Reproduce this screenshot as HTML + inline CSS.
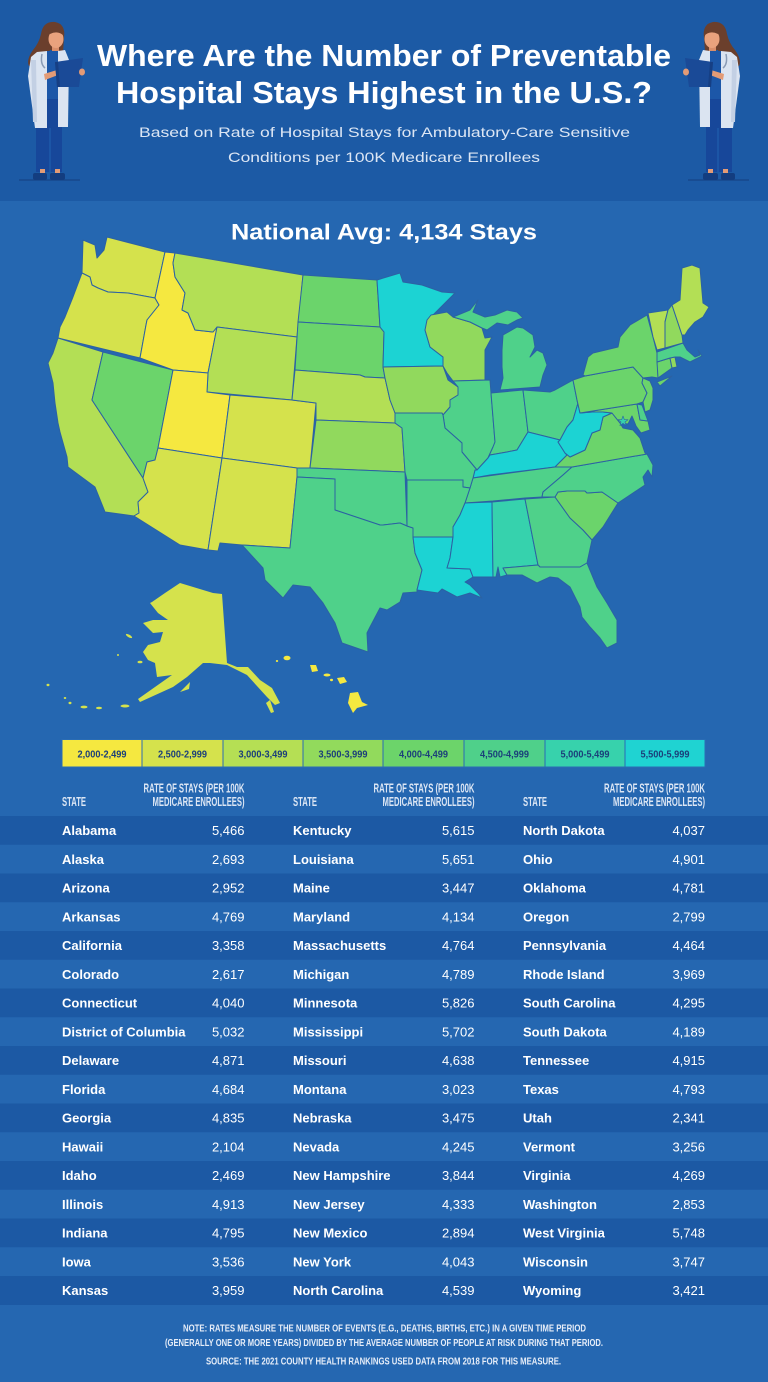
<!DOCTYPE html>
<html><head><meta charset="utf-8"><style>
html,body{margin:0;padding:0;background:#2567b1;}
svg{display:block;}
</style></head><body>
<svg width="768" height="1382" viewBox="0 0 768 1382" xmlns="http://www.w3.org/2000/svg" font-family="'Liberation Sans', sans-serif">
<rect x="0" y="0" width="768" height="1382" fill="#2567b1"/>
<rect x="0" y="0" width="768" height="201" fill="#1c5aa5"/>

<!-- Doctor left -->
<g id="docL">
<rect x="19" y="179" width="61" height="2" fill="#184c92"/>
<path d="M41 34 Q43 21 55 22 Q66 24 64 38 L63 52 L50 50 L44 63 L29 66 Q26 60 33 50 Q39 43 41 34 Z" fill="#6b3f2c"/>
<rect x="36" y="98" width="26" height="74" fill="#17479a"/>
<rect x="49" y="128" width="2" height="44" fill="#1c55a6"/>
<rect x="40" y="169" width="5" height="5" fill="#e39b76"/>
<rect x="55" y="169" width="5" height="5" fill="#e39b76"/>
<rect x="33" y="173" width="14" height="7" rx="2" fill="#133d80"/>
<rect x="50" y="173" width="15" height="7" rx="2" fill="#133d80"/>
<rect x="52" y="45" width="7" height="7" fill="#d98e6a"/>
<ellipse cx="56" cy="39" rx="7.5" ry="9" fill="#e9a27d"/>
<path d="M48 30 Q56 24 64 32 L64 36 Q58 30 50 34 Z" fill="#6b3f2c"/>
<rect x="46" y="51" width="13" height="48" fill="#1c57a8"/>
<path d="M37 52 L47 51 L47 128 L35 128 L28 76 L31 57 Z" fill="#dbe4f1"/>
<path d="M58 51 L65 50 L69 60 L68 127 L58 127 Z" fill="#dbe4f1"/>
<path d="M31 60 L36 60 L37 122 L33 122 Z" fill="#c3d0e4"/>
<path d="M42 54 Q40 64 45 68" stroke="#8a9bb5" stroke-width="1.5" fill="none"/>
<polygon points="44,74 57,70 58,75 45,80" fill="#e39b76"/>
<polygon points="55,62 83,58 79,87 57,87" fill="#1a4a97"/>
<polygon points="55,62 58,62 60,87 57,87" fill="#163f84"/>
<ellipse cx="82" cy="72" rx="3" ry="3.5" fill="#e39b76"/>
</g>
<g transform="matrix(-1,0,0,1,768,0)">
<rect x="19" y="179" width="61" height="2" fill="#184c92"/>
<path d="M41 34 Q43 21 55 22 Q66 24 64 38 L63 52 L50 50 L44 63 L29 66 Q26 60 33 50 Q39 43 41 34 Z" fill="#6b3f2c"/>
<rect x="36" y="98" width="26" height="74" fill="#17479a"/>
<rect x="49" y="128" width="2" height="44" fill="#1c55a6"/>
<rect x="40" y="169" width="5" height="5" fill="#e39b76"/>
<rect x="55" y="169" width="5" height="5" fill="#e39b76"/>
<rect x="33" y="173" width="14" height="7" rx="2" fill="#133d80"/>
<rect x="50" y="173" width="15" height="7" rx="2" fill="#133d80"/>
<rect x="52" y="45" width="7" height="7" fill="#d98e6a"/>
<ellipse cx="56" cy="39" rx="7.5" ry="9" fill="#e9a27d"/>
<path d="M48 30 Q56 24 64 32 L64 36 Q58 30 50 34 Z" fill="#6b3f2c"/>
<rect x="46" y="51" width="13" height="48" fill="#1c57a8"/>
<path d="M37 52 L47 51 L47 128 L35 128 L28 76 L31 57 Z" fill="#dbe4f1"/>
<path d="M58 51 L65 50 L69 60 L68 127 L58 127 Z" fill="#dbe4f1"/>
<path d="M31 60 L36 60 L37 122 L33 122 Z" fill="#c3d0e4"/>
<path d="M42 54 Q40 64 45 68" stroke="#8a9bb5" stroke-width="1.5" fill="none"/>
<polygon points="44,74 57,70 58,75 45,80" fill="#e39b76"/>
<polygon points="55,62 83,58 79,87 57,87" fill="#1a4a97"/>
<polygon points="55,62 58,62 60,87 57,87" fill="#163f84"/>
<ellipse cx="82" cy="72" rx="3" ry="3.5" fill="#e39b76"/>
</g>

<!-- Title -->
<g fill="#ffffff" font-weight="bold" text-anchor="middle">
<text x="384" y="66" font-size="31" textLength="574" lengthAdjust="spacingAndGlyphs">Where Are the Number of Preventable</text>
<text x="384" y="103" font-size="31" textLength="536" lengthAdjust="spacingAndGlyphs">Hospital Stays Highest in the U.S.?</text>
</g>
<g fill="#dce6f4" text-anchor="middle" font-size="14">
<text x="384.5" y="137" textLength="491" lengthAdjust="spacingAndGlyphs">Based on Rate of Hospital Stays for Ambulatory-Care Sensitive</text>
<text x="384" y="162" textLength="312" lengthAdjust="spacingAndGlyphs">Conditions per 100K Medicare Enrollees</text>
</g>
<text x="384" y="239.5" fill="#ffffff" font-weight="bold" font-size="22" text-anchor="middle" textLength="306" lengthAdjust="spacingAndGlyphs">National Avg: 4,134 Stays</text>

<!-- Map -->
<g stroke="#2c62a3" stroke-width="1" stroke-linejoin="round">
<polygon fill="#d5e24c" points="83,240 95,245 97,258 104,250 107,237 165,252 155,298 128,293 108,292 98,288 92,285 90,277 82,273"/>
<polygon fill="#d5e24c" points="82,273 90,277 92,285 98,288 108,292 128,293 155,298 159,305 147,320 146,325 140,358 58,338 60,327 65,317 73,297"/>
<polygon fill="#b3df55" points="58,338 103,352 92,400 143,478 148,492 138,502 139,513 134,516 105,512 95,487 68,467 67,457 60,432 58,423 55,403 53,383 48,363 53,353"/>
<polygon fill="#6bd46b" points="103,352 173,370 158,448 155,460 147,462 143,478 92,400"/>
<polygon fill="#f5e840" points="165,252 175,253 173,263 175,277 185,293 182,310 188,313 195,330 213,332 217,327 208,373 173,370 140,358 146,325 147,320 159,305 155,298"/>
<polygon fill="#b3df55" points="175,253 303,275 297,337 217,327 213,332 195,330 188,313 182,310 185,293 175,277 173,263"/>
<polygon fill="#b3df55" points="217,327 297,337 292,400 207,392 208,373"/>
<polygon fill="#f5e840" points="173,370 208,373 207,392 230,395 222,458 158,448"/>
<polygon fill="#d5e24c" points="230,395 292,400 316,403 310,468 297,468 222,458"/>
<polygon fill="#d5e24c" points="158,448 222,458 208,550 180,545 134,516 139,513 138,502 148,492 143,478 147,462 155,460"/>
<polygon fill="#d5e24c" points="222,458 297,468 297,477 290,548 242,545 220,543 218,551 208,550"/>
<polygon fill="#6bd46b" points="303,275 377,280 380,327 298,322"/>
<polygon fill="#6bd46b" points="298,322 380,327 384,332 383,367 385,378 365,377 360,375 295,370"/>
<polygon fill="#b3df55" points="295,370 360,375 365,377 385,378 390,400 395,413 395,423 316,420 316,403 292,400"/>
<polygon fill="#91d95d" points="316,420 395,423 402,428 405,472 310,468"/>
<polygon fill="#4fd18a" points="297,468 310,468 405,472 407,526 400,523 383,525 380,525 335,510 335,479 297,477"/>
<polygon fill="#4fd18a" points="297,477 335,479 335,510 380,525 383,525 400,523 407,526 413,528 413,537 415,553 422,570 417,590 417,592 403,593 400,602 387,610 380,608 370,627 367,633 368,652 342,643 335,623 323,603 310,587 293,585 283,598 265,580 263,568 242,545 290,548"/>
<polygon fill="#1cd3d3" points="377,280 400,273 403,282 422,285 442,292 455,293 433,315 430,317 425,330 430,347 443,357 443,366 383,367 384,332 380,327"/>
<polygon fill="#91d95d" points="383,367 443,366 448,380 458,387 458,395 450,400 450,407 443,415 442,413 395,413 390,400 385,378"/>
<polygon fill="#91d95d" points="431,315 447,312 453,317 470,322 482,328 485,338 492,337 485,350 485,380 453,381 447,373 443,366 443,357 430,347 425,330 427,320"/>
<polygon fill="#4fd18a" points="453,317 470,310 478,300 473,312 485,317 495,315 507,310 517,312 523,318 517,320 508,325 497,323 487,330 482,328 470,322"/>
<polygon fill="#4fd18a" points="503,335 517,327 523,328 533,335 535,347 530,357 537,350 543,353 547,365 543,375 540,387 500,390 503,378 502,367 502,350"/>
<polygon fill="#4fd18a" points="453,381 490,380 491,393 495,442 493,447 488,458 477,470 462,452 462,443 445,428 443,415 450,407 450,400 458,395 458,387"/>
<polygon fill="#4fd18a" points="491,393 523,390 528,432 517,450 507,452 490,455 488,458 493,447 495,442"/>
<polygon fill="#4fd18a" points="523,390 550,392 555,390 573,380 577,400 578,403 573,420 567,427 560,440 552,438 528,432"/>
<polygon fill="#1cd3d3" points="528,432 552,438 560,440 558,442 565,453 567,455 555,467 490,475 473,478 475,470 477,470 488,458 490,455 507,452 517,450"/>
<polygon fill="#4fd18a" points="473,478 555,467 572,467 563,475 543,492 542,497 525,498 493,501 465,503 470,488"/>
<polygon fill="#4fd18a" points="395,413 442,413 443,415 445,428 462,443 462,452 477,470 475,470 473,478 470,488 463,487 463,480 407,480 405,472 402,428 395,423"/>
<polygon fill="#4fd18a" points="407,480 463,480 463,487 470,488 465,503 460,515 453,527 453,537 413,537 413,528 407,526"/>
<polygon fill="#1cd3d3" points="413,537 453,537 450,558 447,568 470,569 473,577 465,582 470,585 478,593 482,598 470,593 457,597 442,589 438,593 417,590 422,570 415,553"/>
<polygon fill="#1cd3d3" points="465,503 492,502 493,577 476,577 473,577 470,569 447,568 450,558 453,537 453,527 460,515"/>
<polygon fill="#36d2ad" points="492,502 525,499 538,565 503,568 507,575 500,577 498,567 496,577 493,577"/>
<polygon fill="#4fd18a" points="525,499 555,497 570,518 583,530 592,540 587,563 580,567 540,567 538,565"/>
<polygon fill="#4fd18a" points="503,568 538,565 540,567 580,567 587,563 597,587 607,603 617,620 617,643 607,648 600,638 590,627 582,617 580,607 575,597 570,587 558,578 550,577 537,583 522,575 507,575"/>
<polygon fill="#6bd46b" points="555,497 558,492 567,491 585,491 587,493 602,492 618,503 603,527 592,540 583,530 570,518"/>
<polygon fill="#4fd18a" points="572,467 647,454 653,465 652,477 648,470 643,477 645,485 633,493 618,503 602,492 587,493 585,491 567,491 558,492 555,497 542,497 543,492 563,475"/>
<polygon fill="#6bd46b" points="555,467 567,455 565,453 570,457 585,450 592,433 600,430 603,417 612,413 620,423 623,428 633,430 640,438 645,453 647,454 572,467"/>
<polygon fill="#1cd3d3" points="560,440 567,427 573,420 578,403 577,400 580,413 592,412 603,412 612,413 603,417 600,430 592,433 585,450 570,457 565,453 558,442"/>
<polygon fill="#6bd46b" points="580,413 637,404 640,420 648,421 650,430 641,433 636,426 632,416 628,424 620,423 612,413 603,412 592,412"/>
<polygon fill="#4fd18a" points="637,404 642,405 648,421 640,420"/>
<polygon fill="#6bd46b" points="573,380 585,376 633,367 643,378 642,383 647,393 643,402 637,404 580,413 577,400"/>
<polygon fill="#6bd46b" points="583,375 588,357 593,353 618,347 620,337 630,325 647,315 653,337 657,353 658,378 652,377 643,378 633,367 585,376"/>
<polygon fill="#6bd46b" points="657,382 672,376 660,386"/>
<polygon fill="#6bd46b" points="643,378 650,381 653,388 653,400 650,410 645,412 643,402 647,393 642,383"/>
<polygon fill="#6bd46b" points="657,362 670,358 672,368 658,378"/>
<polygon fill="#91d95d" points="670,358 675,357 677,367 672,368"/>
<polygon fill="#4fd18a" points="657,352 683,343 687,350 695,357 700,355 698,350 702,356 690,362 680,357 675,357 670,358 657,362"/>
<polygon fill="#b3df55" points="648,313 668,310 665,322 665,348 657,350 653,337"/>
<polygon fill="#91d95d" points="668,310 672,305 682,335 683,343 665,348 665,322"/>
<polygon fill="#b3df55" points="672,305 680,300 682,268 692,265 700,268 703,303 709,307 703,317 695,322 688,330 685,335 682,335"/>
<polygon fill="#36d2ad" stroke-width="0.6" points="623,416 624.3,419.6 628,419.7 625,422 626.1,425.6 623,423.4 619.9,425.6 621,422 618,419.7 621.7,419.6"/>
</g>
<!-- Alaska -->
<g fill="#d5e24c">
<polygon points="152,602 165,593 180,583 213,593 222,594 227,663 237,667 248,667 260,680 272,688 280,703 275,705 267,697 247,675 227,665 210,663 203,663 187,677 173,687 140,702 138,699 172,675 157,677 155,663 148,660 143,652 148,645 160,642 163,632 153,633 143,623 153,620 168,620 158,613 150,603"/>
<polygon points="180,692 190,682 189,689"/>
<polygon points="266,703 270,700 274,712 271,713"/>
<ellipse cx="48" cy="685" rx="1.5" ry="1.2"/>
<ellipse cx="65" cy="698" rx="1.3" ry="1"/>
<ellipse cx="70" cy="703" rx="1.5" ry="1.2"/>
<ellipse cx="84" cy="707" rx="3.5" ry="1.4"/>
<ellipse cx="99" cy="708" rx="3" ry="1.3"/>
<ellipse cx="125" cy="706" rx="4.5" ry="1.5"/>
<ellipse cx="118" cy="655" rx="1" ry="1"/>
<ellipse cx="140" cy="662" rx="2.5" ry="1.3"/>
<ellipse cx="129" cy="636" rx="3.5" ry="1.3" transform="rotate(30 129 636)"/>
</g>
<!-- Hawaii -->
<g fill="#f5e840">
<ellipse cx="277" cy="661" rx="1.2" ry="1"/>
<ellipse cx="287" cy="658" rx="3.5" ry="2.3"/>
<polygon points="310,665 316,665 318,671 312,672"/>
<ellipse cx="327" cy="675" rx="3.5" ry="1.5"/>
<ellipse cx="331.5" cy="680" rx="1.5" ry="1.2"/>
<polygon points="337,678 344,677 347,682 340,684"/>
<polygon points="350,693 358,692 362,702 368,705 357,708 353,713 348,703"/>
</g>

<!-- Legend -->
<g stroke="#2a6cb4" stroke-width="1">
<rect x="62" y="739.5" width="80" height="27.5" fill="#f5e840"/>
<rect x="142" y="739.5" width="81" height="27.5" fill="#d5e24c"/>
<rect x="223" y="739.5" width="80" height="27.5" fill="#b5df54"/>
<rect x="303" y="739.5" width="80" height="27.5" fill="#92da5c"/>
<rect x="383" y="739.5" width="81" height="27.5" fill="#6cd46a"/>
<rect x="464" y="739.5" width="81" height="27.5" fill="#4fd08a"/>
<rect x="545" y="739.5" width="80" height="27.5" fill="#37d2ac"/>
<rect x="625" y="739.5" width="80" height="27.5" fill="#1fd3d2"/>
</g>
<g fill="#1b3f7a" font-size="10.5" font-weight="bold" text-anchor="middle">
<text x="102" y="757.5" textLength="49" lengthAdjust="spacingAndGlyphs">2,000-2,499</text>
<text x="182.5" y="757.5" textLength="49" lengthAdjust="spacingAndGlyphs">2,500-2,999</text>
<text x="263" y="757.5" textLength="49" lengthAdjust="spacingAndGlyphs">3,000-3,499</text>
<text x="343" y="757.5" textLength="49" lengthAdjust="spacingAndGlyphs">3,500-3,999</text>
<text x="423.5" y="757.5" textLength="49" lengthAdjust="spacingAndGlyphs">4,000-4,499</text>
<text x="504.5" y="757.5" textLength="49" lengthAdjust="spacingAndGlyphs">4,500-4,999</text>
<text x="585" y="757.5" textLength="49" lengthAdjust="spacingAndGlyphs">5,000-5,499</text>
<text x="665" y="757.5" textLength="49" lengthAdjust="spacingAndGlyphs">5,500-5,999</text>
</g>

<!-- Table header -->
<g fill="#dce6f4" font-size="12.5" font-weight="bold">
<text x="62" y="806" textLength="24" lengthAdjust="spacingAndGlyphs">STATE</text>
<text x="293" y="806" textLength="24" lengthAdjust="spacingAndGlyphs">STATE</text>
<text x="523" y="806" textLength="24" lengthAdjust="spacingAndGlyphs">STATE</text>
</g>
<g fill="#dce6f4" font-size="12.5" font-weight="bold" text-anchor="end">
<text x="244.5" y="792.5" textLength="101" lengthAdjust="spacingAndGlyphs">RATE OF STAYS (PER 100K</text>
<text x="244.5" y="806" textLength="92" lengthAdjust="spacingAndGlyphs">MEDICARE ENROLLEES)</text>
<text x="474.5" y="792.5" textLength="101" lengthAdjust="spacingAndGlyphs">RATE OF STAYS (PER 100K</text>
<text x="474.5" y="806" textLength="92" lengthAdjust="spacingAndGlyphs">MEDICARE ENROLLEES)</text>
<text x="705" y="792.5" textLength="101" lengthAdjust="spacingAndGlyphs">RATE OF STAYS (PER 100K</text>
<text x="705" y="806" textLength="92" lengthAdjust="spacingAndGlyphs">MEDICARE ENROLLEES)</text>
</g>

<!-- Row bands -->
<g fill="#1c59a4">
<rect x="0" y="816" width="768" height="28.75"/>
<rect x="0" y="873.5" width="768" height="28.75"/>
<rect x="0" y="931" width="768" height="28.75"/>
<rect x="0" y="988.5" width="768" height="28.75"/>
<rect x="0" y="1046" width="768" height="28.75"/>
<rect x="0" y="1103.5" width="768" height="28.75"/>
<rect x="0" y="1161" width="768" height="28.75"/>
<rect x="0" y="1218.5" width="768" height="28.75"/>
<rect x="0" y="1276" width="768" height="29"/>
</g>

<!-- Table state names -->
<g fill="#ffffff" font-size="13" font-weight="bold">
<text x="62" y="835">Alabama</text>
<text x="62" y="863.75">Alaska</text>
<text x="62" y="892.5">Arizona</text>
<text x="62" y="921.25">Arkansas</text>
<text x="62" y="950">California</text>
<text x="62" y="978.75">Colorado</text>
<text x="62" y="1007.5">Connecticut</text>
<text x="62" y="1036.25">District of Columbia</text>
<text x="62" y="1065">Delaware</text>
<text x="62" y="1093.75">Florida</text>
<text x="62" y="1122.5">Georgia</text>
<text x="62" y="1151.25">Hawaii</text>
<text x="62" y="1180">Idaho</text>
<text x="62" y="1208.75">Illinois</text>
<text x="62" y="1237.5">Indiana</text>
<text x="62" y="1266.25">Iowa</text>
<text x="62" y="1295">Kansas</text>

<text x="293" y="835">Kentucky</text>
<text x="293" y="863.75">Louisiana</text>
<text x="293" y="892.5">Maine</text>
<text x="293" y="921.25">Maryland</text>
<text x="293" y="950">Massachusetts</text>
<text x="293" y="978.75">Michigan</text>
<text x="293" y="1007.5">Minnesota</text>
<text x="293" y="1036.25">Mississippi</text>
<text x="293" y="1065">Missouri</text>
<text x="293" y="1093.75">Montana</text>
<text x="293" y="1122.5">Nebraska</text>
<text x="293" y="1151.25">Nevada</text>
<text x="293" y="1180">New Hampshire</text>
<text x="293" y="1208.75">New Jersey</text>
<text x="293" y="1237.5">New Mexico</text>
<text x="293" y="1266.25">New York</text>
<text x="293" y="1295">North Carolina</text>

<text x="523" y="835">North Dakota</text>
<text x="523" y="863.75">Ohio</text>
<text x="523" y="892.5">Oklahoma</text>
<text x="523" y="921.25">Oregon</text>
<text x="523" y="950">Pennsylvania</text>
<text x="523" y="978.75">Rhode Island</text>
<text x="523" y="1007.5">South Carolina</text>
<text x="523" y="1036.25">South Dakota</text>
<text x="523" y="1065">Tennessee</text>
<text x="523" y="1093.75">Texas</text>
<text x="523" y="1122.5">Utah</text>
<text x="523" y="1151.25">Vermont</text>
<text x="523" y="1180">Virginia</text>
<text x="523" y="1208.75">Washington</text>
<text x="523" y="1237.5">West Virginia</text>
<text x="523" y="1266.25">Wisconsin</text>
<text x="523" y="1295">Wyoming</text>
</g>

<!-- Table values -->
<g fill="#ffffff" font-size="13" text-anchor="end">
<text x="244.5" y="835">5,466</text>
<text x="244.5" y="863.75">2,693</text>
<text x="244.5" y="892.5">2,952</text>
<text x="244.5" y="921.25">4,769</text>
<text x="244.5" y="950">3,358</text>
<text x="244.5" y="978.75">2,617</text>
<text x="244.5" y="1007.5">4,040</text>
<text x="244.5" y="1036.25">5,032</text>
<text x="244.5" y="1065">4,871</text>
<text x="244.5" y="1093.75">4,684</text>
<text x="244.5" y="1122.5">4,835</text>
<text x="244.5" y="1151.25">2,104</text>
<text x="244.5" y="1180">2,469</text>
<text x="244.5" y="1208.75">4,913</text>
<text x="244.5" y="1237.5">4,795</text>
<text x="244.5" y="1266.25">3,536</text>
<text x="244.5" y="1295">3,959</text>

<text x="474.5" y="835">5,615</text>
<text x="474.5" y="863.75">5,651</text>
<text x="474.5" y="892.5">3,447</text>
<text x="474.5" y="921.25">4,134</text>
<text x="474.5" y="950">4,764</text>
<text x="474.5" y="978.75">4,789</text>
<text x="474.5" y="1007.5">5,826</text>
<text x="474.5" y="1036.25">5,702</text>
<text x="474.5" y="1065">4,638</text>
<text x="474.5" y="1093.75">3,023</text>
<text x="474.5" y="1122.5">3,475</text>
<text x="474.5" y="1151.25">4,245</text>
<text x="474.5" y="1180">3,844</text>
<text x="474.5" y="1208.75">4,333</text>
<text x="474.5" y="1237.5">2,894</text>
<text x="474.5" y="1266.25">4,043</text>
<text x="474.5" y="1295">4,539</text>

<text x="705" y="835">4,037</text>
<text x="705" y="863.75">4,901</text>
<text x="705" y="892.5">4,781</text>
<text x="705" y="921.25">2,799</text>
<text x="705" y="950">4,464</text>
<text x="705" y="978.75">3,969</text>
<text x="705" y="1007.5">4,295</text>
<text x="705" y="1036.25">4,189</text>
<text x="705" y="1065">4,915</text>
<text x="705" y="1093.75">4,793</text>
<text x="705" y="1122.5">2,341</text>
<text x="705" y="1151.25">3,256</text>
<text x="705" y="1180">4,269</text>
<text x="705" y="1208.75">2,853</text>
<text x="705" y="1237.5">5,748</text>
<text x="705" y="1266.25">3,747</text>
<text x="705" y="1295">3,421</text>
</g>

<!-- Footnotes -->
<g fill="#e6edf8" font-size="10.5" font-weight="bold" text-anchor="middle">
<text x="384.5" y="1331.5" textLength="403" lengthAdjust="spacingAndGlyphs">NOTE: RATES MEASURE THE NUMBER OF EVENTS (E.G., DEATHS, BIRTHS, ETC.) IN A GIVEN TIME PERIOD</text>
<text x="384" y="1346" textLength="438" lengthAdjust="spacingAndGlyphs">(GENERALLY ONE OR MORE YEARS) DIVIDED BY THE AVERAGE NUMBER OF PEOPLE AT RISK DURING THAT PERIOD.</text>
<text x="383.5" y="1364.5" textLength="355" lengthAdjust="spacingAndGlyphs">SOURCE: THE 2021 COUNTY HEALTH RANKINGS USED DATA FROM 2018 FOR THIS MEASURE.</text>
</g>
</svg>
</body></html>
